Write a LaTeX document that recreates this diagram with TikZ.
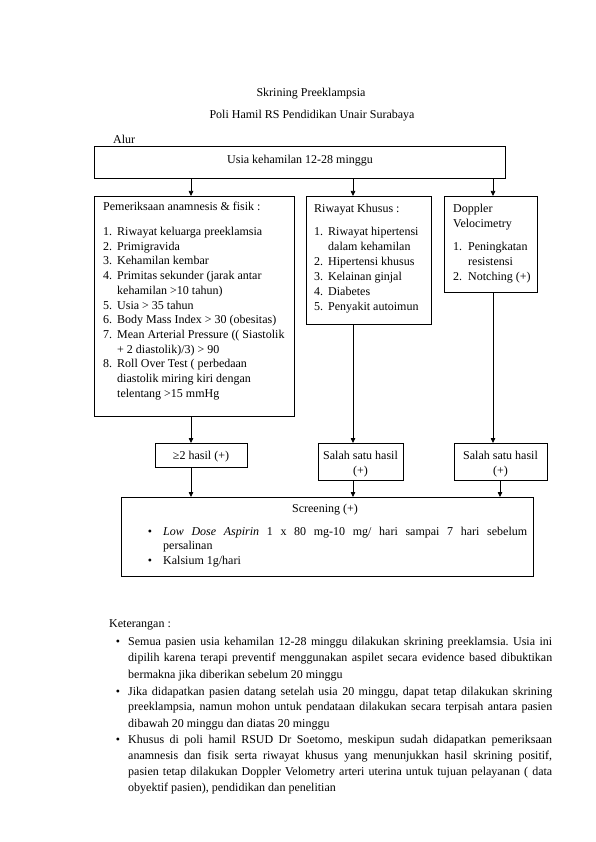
\documentclass[tikz,border=0pt]{standalone}
\usepackage{fontspec}
\setmainfont{Liberation Serif}
\usetikzlibrary{arrows.meta}
\newcommand\fs{\fontsize{12}{14}\selectfont}
\newcommand\jl[2]{\hbox to #1{#2}}
\frenchspacing
\begin{document}
\begin{tikzpicture}[x=1pt,y=-1pt,
  box/.style={draw, line width=0.75pt, inner sep=0pt, anchor=north west},
  tx/.style={anchor=base west, inner sep=0pt, font=\fs},
  tc/.style={anchor=base, inner sep=0pt, font=\fs},
  arr/.style={line width=0.75pt, -{Triangle[length=5pt,width=4.5pt]}},
  ln/.style={line width=0.75pt}]
\useasboundingbox (0,0) rectangle (595,842);
% titles
\node[tc] (title) at (311,96.5) {Skrining Preeklampsia};
\node[tc] (subtitle) at (312,118.5) {Poli Hamil RS Pendidikan Unair Surabaya};
\node[tx] (alur) at (113,143.5) {Alur};
% top box
\node[box, minimum width=411pt, minimum height=32pt] (top) at (94,146) {};
\node[tc] (toptext) at (300,164) {Usia kehamilan 12-28 minggu};
% column coordinates
\coordinate (c1) at (191,0);
\coordinate (c2) at (353,0);
\coordinate (c3) at (493,0);
\coordinate (c3b) at (500,0);
% box 1
\node[box, minimum width=200pt, minimum height=220pt] (b1) at (94,196) {};
\node[tx] (b1h) at (103,210.5) {Pemeriksaan anamnesis \& fisik :};
\node[tx] (b1n1) at (103,235.5) {1.}; \node[tx] (b1t1) at (117,235.5) {Riwayat keluarga preeklamsia};
\node[tx] (b1n2) at (103,250.2) {2.}; \node[tx] (b1t2) at (117,250.2) {Primigravida};
\node[tx] (b1n3) at (103,264.9) {3.}; \node[tx] (b1t3) at (117,264.9) {Kehamilan kembar};
\node[tx] (b1n4) at (103,279.6) {4.}; \node[tx] (b1t4) at (117,279.6) {Primitas sekunder (jarak antar};
\node[tx] (b1t4b) at (117,294.3) {kehamilan >10 tahun)};
\node[tx] (b1n5) at (103,309.0) {5.}; \node[tx] (b1t5) at (117,309.0) {Usia > 35 tahun};
\node[tx] (b1n6) at (103,323.7) {6.}; \node[tx] (b1t6) at (117,323.7) {Body Mass Index > 30 (obesitas)};
\node[tx] (b1n7) at (103,338.4) {7.}; \node[tx] (b1t7) at (117,338.4) {Mean Arterial Pressure (( Siastolik};
\node[tx] (b1t7b) at (117,353.1) {+ 2 diastolik)/3) > 90};
\node[tx] (b1n8) at (103,367.8) {8.}; \node[tx] (b1t8) at (117,367.8) {Roll Over Test ( perbedaan};
\node[tx] (b1t8b) at (117,382.5) {diastolik miring kiri dengan};
\node[tx] (b1t8c) at (117,397.2) {telentang >15 mmHg};
% box 2
\node[box, minimum width=125pt, minimum height=128pt] (b2) at (306,196) {};
\node[tx] (b2h) at (314,212.5) {Riwayat Khusus :};
\node[tx] (b2n1) at (314,235.5) {1.}; \node[tx] (b2t1) at (328,235.5) {Riwayat hipertensi};
\node[tx] (b2t1b) at (328,250.5) {dalam kehamilan};
\node[tx] (b2n2) at (314,265.5) {2.}; \node[tx] (b2t2) at (328,265.5) {Hipertensi khusus};
\node[tx] (b2n3) at (314,280.5) {3.}; \node[tx] (b2t3) at (328,280.5) {Kelainan ginjal};
\node[tx] (b2n4) at (314,295.5) {4.}; \node[tx] (b2t4) at (328,295.5) {Diabetes};
\node[tx] (b2n5) at (314,310.5) {5.}; \node[tx] (b2t5) at (328,310.5) {Penyakit autoimun};
% box 3
\node[box, minimum width=93pt, minimum height=96pt] (b3) at (444,196) {};
\node[tx] (b3h) at (453,212.5) {Doppler};
\node[tx] (b3h2) at (453,227.5) {Velocimetry};
\node[tx] (b3n1) at (453,250.5) {1.}; \node[tx] (b3t1) at (468,250.5) {Peningkatan};
\node[tx] (b3t1b) at (468,265.5) {resistensi};
\node[tx] (b3n2) at (453,280.5) {2.}; \node[tx] (b3t2) at (468,280.5) {Notching (+)};
% result boxes
\node[box, minimum width=92pt, minimum height=24pt] (r1) at (155,443) {};
\node[tc] (r1t) at (201,459.5) {≥2 hasil (+)};
\node[box, minimum width=85pt, minimum height=37pt] (r2) at (318,443) {};
\node[tc] (r2t) at (360.5,459.5) {Salah satu hasil};
\node[tc] (r2tb) at (360.5,474.5) {(+)};
\node[box, minimum width=93pt, minimum height=37pt] (r3) at (454,443) {};
\node[tc] (r3t) at (500.5,459.5) {Salah satu hasil};
\node[tc] (r3tb) at (500.5,474.5) {(+)};
% screening box
\node[box, minimum width=412pt, minimum height=79pt] (scr) at (121,497) {};
\node[tc] (scrh) at (325,512.5) {Screening (+)};
\node[tc] (sb1) at (150,535.5) {•};
\node[tx] (st1) at (163,535.5) {\jl{364pt}{\textit{Low Dose Aspirin} 1 x 80 mg-10 mg/ hari sampai 7 hari sebelum}};
\node[tx] (st1b) at (163,549.5) {persalinan};
\node[tc] (sb2) at (150,564.5) {•};
\node[tx] (st2) at (163,564.5) {Kalsium 1g/hari};
% connectors
\draw[arr] (top.south -| c1) -- (b1.north -| c1);
\draw[arr] (top.south -| c2) -- (b2.north -| c2);
\draw[arr] (top.south -| c3) -- (b3.north -| c3);
\draw[arr] (b1.south -| c1) -- (r1.north -| c1);
\draw[arr] (b2.south -| c2) -- (r2.north -| c2);
\draw[arr] (b3.south -| c3) -- (r3.north -| c3);
\draw[arr] (r1.south -| c1) -- (scr.north -| c1);
\draw[arr] (r2.south -| c2) -- (scr.north -| c2);
\draw[arr] (r3.south -| c3b) -- (scr.north -| c3b);
% keterangan
\node[tx] (ket) at (109,627.5) {Keterangan :};
\node[tc] (kb1) at (118,645.2) {•};
\node[tx] (k1a) at (128,645.2) {\jl{424pt}{Semua pasien usia kehamilan 12-28 minggu dilakukan skrining preeklamsia. Usia ini}};
\node[tx] (k1b) at (128,661.8) {\jl{424pt}{dipilih karena terapi preventif menggunakan aspilet secara evidence based dibuktikan}};
\node[tx] (k1c) at (128,678.5) {bermakna jika diberikan sebelum 20 minggu};
\node[tc] (kb2) at (118,695.2) {•};
\node[tx] (k2a) at (128,695.2) {\jl{424pt}{Jika didapatkan pasien datang setelah usia 20 minggu, dapat tetap dilakukan skrining}};
\node[tx] (k2b) at (128,710.8) {\jl{424pt}{preeklampsia, namun mohon untuk pendataan dilakukan secara terpisah antara pasien}};
\node[tx] (k2c) at (128,727.5) {dibawah 20 minggu dan diatas 20 minggu};
\node[tc] (kb3) at (118,743.5) {•};
\node[tx] (k3a) at (128,743.5) {\jl{424pt}{Khusus di poli hamil RSUD Dr Soetomo, meskipun sudah didapatkan pemeriksaan}};
\node[tx] (k3b) at (128,759.2) {\jl{424pt}{anamnesis dan fisik serta riwayat khusus yang menunjukkan hasil skrining positif,}};
\node[tx] (k3c) at (128,775.8) {\jl{424pt}{pasien tetap dilakukan Doppler Velometry arteri uterina untuk tujuan pelayanan ( data}};
\node[tx] (k3d) at (128,791.2) {obyektif pasien), pendidikan dan penelitian};
\end{tikzpicture}
\end{document}
